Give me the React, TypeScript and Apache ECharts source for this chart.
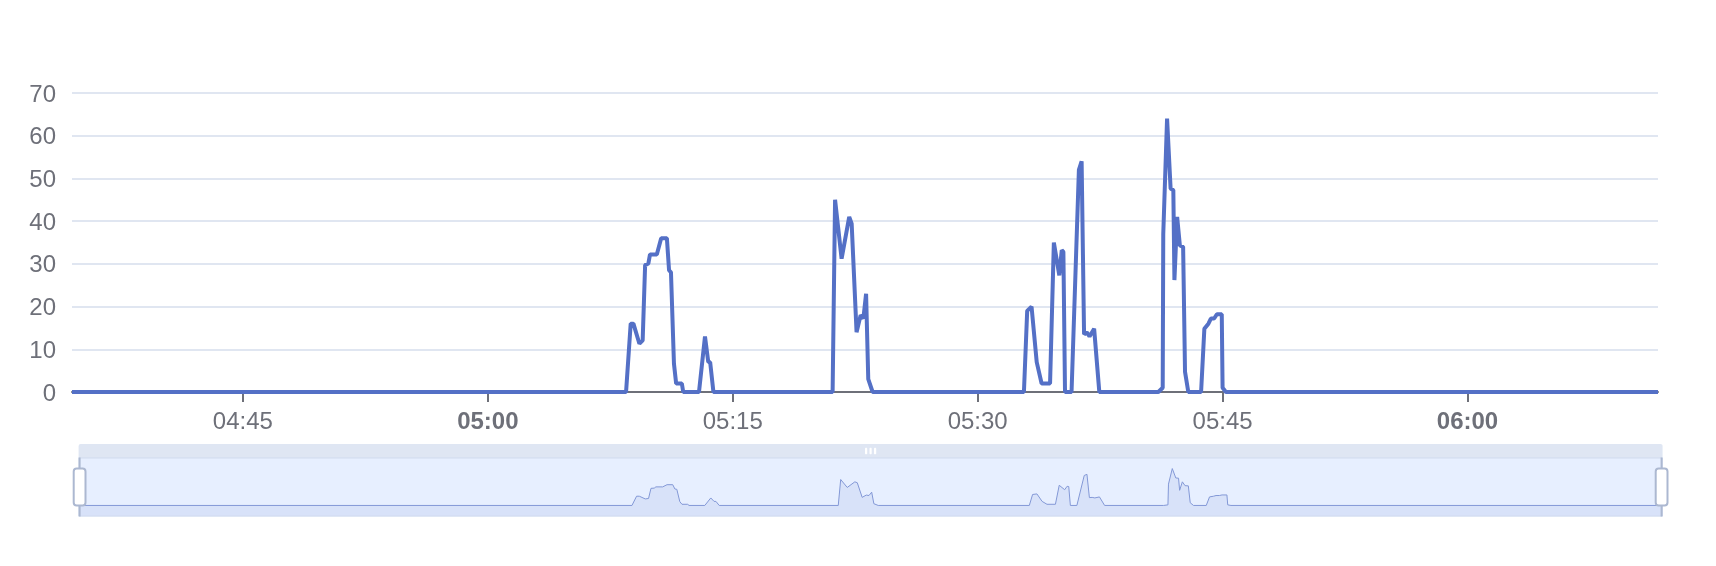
import React, { useEffect, useRef } from 'react';
import * as echarts from 'echarts';

const DAY = '2024-05-20 ';

const times: string[] = [
  '04:34:32',
  '05:08:28', '05:08:45', '05:08:55', '05:09:17', '05:09:29', '05:09:38', '05:09:50', '05:09:56',
  '05:10:21', '05:10:37', '05:10:58', '05:11:06', '05:11:13', '05:11:24', '05:11:32', '05:11:53',
  '05:11:58', '05:12:56', '05:13:18', '05:13:30', '05:13:37', '05:13:49',
  '05:21:07', '05:21:16', '05:21:40', '05:22:08', '05:22:17', '05:22:35', '05:22:50', '05:23:00',
  '05:23:10', '05:23:18', '05:23:34',
  '05:32:50', '05:33:02', '05:33:18', '05:33:37', '05:33:55', '05:34:26', '05:34:40', '05:35:00',
  '05:35:09', '05:35:15', '05:35:21', '05:35:45', '05:36:12', '05:36:22', '05:36:31', '05:36:41',
  '05:36:51', '05:37:08', '05:37:27',
  '05:41:04', '05:41:20', '05:41:22', '05:41:36', '05:41:49', '05:41:59', '05:42:03', '05:42:13',
  '05:42:23', '05:42:35', '05:42:42', '05:42:54', '05:43:41', '05:43:53', '05:44:08', '05:44:17',
  '05:44:29', '05:44:39', '05:44:57', '05:45:00', '05:45:12',
  '06:11:40',
];

const values: number[] = [
  0,
  0, 16, 16, 11.3, 12.1, 29.7, 30.1, 32.2,
  32.2, 36, 36, 28.5, 28, 6.6, 2, 2,
  0, 0, 13, 7, 7, 0,
  0, 45, 31.2, 41, 39.4, 14, 18, 17.2,
  23, 3, 0,
  0, 19, 20, 7, 2, 2, 35, 27.3,
  33.2, 32.8, 0, 0, 52, 54, 13.5, 14,
  13, 14.8, 0,
  0, 1, 37, 64, 47.6, 47.3, 26.2, 41,
  34.3, 34, 4.7, 0, 0, 14.8, 16, 17.2,
  17.2, 18.2, 18.2, 1, 0,
  0,
];

const yMin = 0;
const yMax = 70;
const yInterval = 10;

export default function App() {
  const ref = useRef<HTMLDivElement>(null);
  useEffect(() => {
    if (!ref.current) return;
    const chart = echarts.init(ref.current, undefined, { renderer: 'svg' });
    const data = times.map((t, i) => [DAY + t, values[i]]);
    const font = 'Liberation Sans, Arial, Helvetica, sans-serif';
    chart.setOption({
      animation: false,
      grid: { left: 72, right: 58, top: 93, bottom: 174 },
      xAxis: {
        type: 'time',
        boundaryGap: false,
        minInterval: 17 * 60 * 1000,
        maxInterval: 17 * 60 * 1000,
        axisLine: { lineStyle: { color: '#6E7079', width: 2 } },
        axisTick: { length: 10, lineStyle: { width: 2 } },
        axisLabel: { fontSize: 24, margin: 16, color: '#6E7079', fontFamily: font },
        splitLine: { show: false },
      },
      yAxis: {
        type: 'value',
        min: yMin,
        max: yMax,
        interval: yInterval,
        axisLabel: { fontSize: 24, margin: 16, color: '#6E7079', fontFamily: font },
        splitLine: { lineStyle: { color: '#E0E6F1', width: 2 } },
      },
      dataZoom: [
        {
          type: 'slider',
          start: 0,
          end: 100,
          left: 73,
          right: 59,
          top: 444,
          height: 59,
          moveHandleSize: 14,
          moveHandleStyle: { color: '#D2DBEE', opacity: 0.7 },
          handleStyle: { borderWidth: 2, borderColor: '#ACB8D1', color: '#fff' },
          borderColor: '#d2dbee',
          dataBackground: { lineStyle: { width: 1 } },
          selectedDataBackground: { lineStyle: { width: 1 } },
          textStyle: { fontSize: 24, fontFamily: font },
        },
      ],
      series: [
        {
          type: 'line',
          data,
          showSymbol: false,
          lineStyle: { width: 4, color: '#5470c6' },
          itemStyle: { color: '#5470c6' },
        },
      ],
    });
    return () => chart.dispose();
  }, []);
  return <div ref={ref} style={{ position: 'fixed', left: 0, top: 0, width: 1716, height: 566 }} />;
}
